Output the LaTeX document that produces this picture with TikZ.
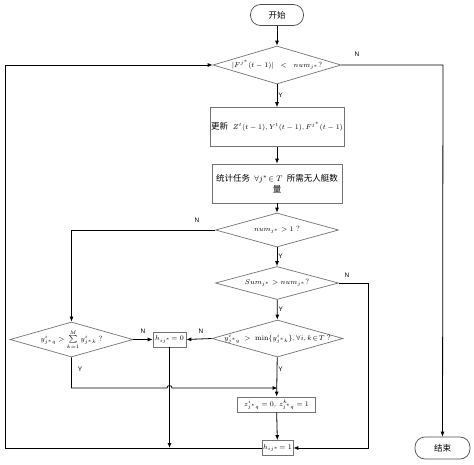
\documentclass[tikz,border=0pt]{standalone}
\usepackage{fontspec}
\usepackage{amsmath}
\newfontfamily\cjk{Noto Sans CJK SC}
\newfontfamily\labfont{Liberation Sans}
\usetikzlibrary{shapes.geometric,arrows.meta,calc}
\begin{document}
\begin{tikzpicture}[x=1pt,y=-1pt,
  every node/.style={font=\fontsize{7.5}{9}\selectfont},
  box/.style={draw=black!55, line width=0.7pt, rectangle, inner sep=1pt},
  term/.style={draw=black!70, line width=0.7pt, rectangle, rounded corners=10pt, inner sep=0pt},
  dia/.style={draw=black!55, line width=0.7pt, diamond, inner sep=0pt},
  arr/.style={line width=0.8pt, -{Latex[length=5pt,width=4pt]}},
  lab/.style={font=\labfont\fontsize{6.5}{8}\selectfont, inner sep=1pt}]
\useasboundingbox (0,0) rectangle (474,464);

% nodes
\node[term, minimum width=53pt, minimum height=21pt] (start) at (277,15) {\cjk\fontsize{8.5}{10}\selectfont 开始};
\node[dia, minimum width=128pt, minimum height=38pt,
  label=center:{$\lvert F^{j^*}(t-1)\rvert \;\;<\;\; num_{j^*}$?}] (d1) at (277,65) {};
\node[box, minimum width=130pt, minimum height=39pt] (b1) at (277,127)
  {{\cjk\fontsize{8.5}{10}\selectfont 更新}\; $Z^t(t-1),Y^t(t-1),F^{j^*}(t-1)$};
\node[box, minimum width=130pt, minimum height=39pt, align=center, font=\fontsize{8.5}{11}\selectfont] (b2) at (277,183.5)
  {{\cjk 统计任务}\, $\forall j^*\!\in T$\, {\cjk 所需无人艇数}\\{\cjk 量}};
\node[dia, minimum width=123pt, minimum height=34pt,
  label=center:{$num_{j^*}>1$ ?}] (d2) at (277,230) {};
\node[dia, minimum width=123pt, minimum height=33pt,
  label=center:{$Sum_{j^*}>num_{j^*}$?}] (d3) at (277,283) {};
\node[dia, minimum width=131pt, minimum height=37pt,
  label=center:{$y^{i}_{j^*q}\;>\;\min\{y^{i}_{j^*k}\},\forall i,k\!\in\! T$\;?}] (d4) at (277.5,338.5) {};
\node[dia, minimum width=123pt, minimum height=35pt,
  label=center:{$y^{i}_{j^*q}>\sum\limits_{k=1}^{M} y^{i}_{j^*k}$\;?}] (d5) at (71.5,339.5) {};
\node[box, minimum width=33pt, minimum height=15pt] (h0) at (169.5,339.5) {$h_{ij^*}\!=0$};
\node[box, minimum width=78pt, minimum height=15pt] (z) at (276.5,404.5) {$z^{i}_{j^*q}=0,\, z^{k}_{j^*q}=1$};
\node[box, minimum width=31pt, minimum height=15pt] (h1) at (277.5,448) {$h_{ij^*}\!=1$};
\node[term, minimum width=55pt, minimum height=22pt] (end) at (442.5,448) {\cjk\fontsize{8.5}{10}\selectfont 结束};

\coordinate (rN) at (443,65);
\coordinate (sN) at (368,283);
\coordinate (j1) at (277.5,388);
\coordinate (lb) at (5,448);
\coordinate (lt) at (5,65);

% connectors
\draw[arr] (start) -- (d1);
\draw[arr] (d1) -- node[lab,right]{Y} (b1);
\draw[arr] (d1.east) -- (rN) -- (end);
\node[lab] (n1) at (357,54) {N};
\draw[arr] (b1) -- (b2);
\draw[arr] (b2) -- (d2);
\draw[arr] (d2) -- node[lab,right]{Y} (d3);
\draw[arr] (d2.west) -| (d5.north);
\node[lab] (n2) at (197,220) {N};
\draw[arr] (d3) -- node[lab,right]{Y} (d4);
\draw[arr] (d3.east) -- (sN) |- (h1.east);
\node[lab] (n3) at (347,275) {N};
\draw[arr] (d4.west) -- (h0.east);
\node[lab] (n4) at (201,331) {N};
\draw[arr] (d5.east) -- (h0.west);
\node[lab] (n5) at (143,331) {N};
\draw[arr] (d4) -- node[lab,right,pos=0.3]{Y} (z);
\draw[arr] (d5.south) |- (167,388) arc (180:360:2.5) -- (j1);
\node[lab] (y5) at (80,369) {Y};
\draw[arr] (z) -- (h1);
\draw[arr] (h0.south) -- (h0.south |- h1.west);
\draw[arr] (h1.west) -- (lb) -- (lt) -- (d1.west);
\end{tikzpicture}
\end{document}
